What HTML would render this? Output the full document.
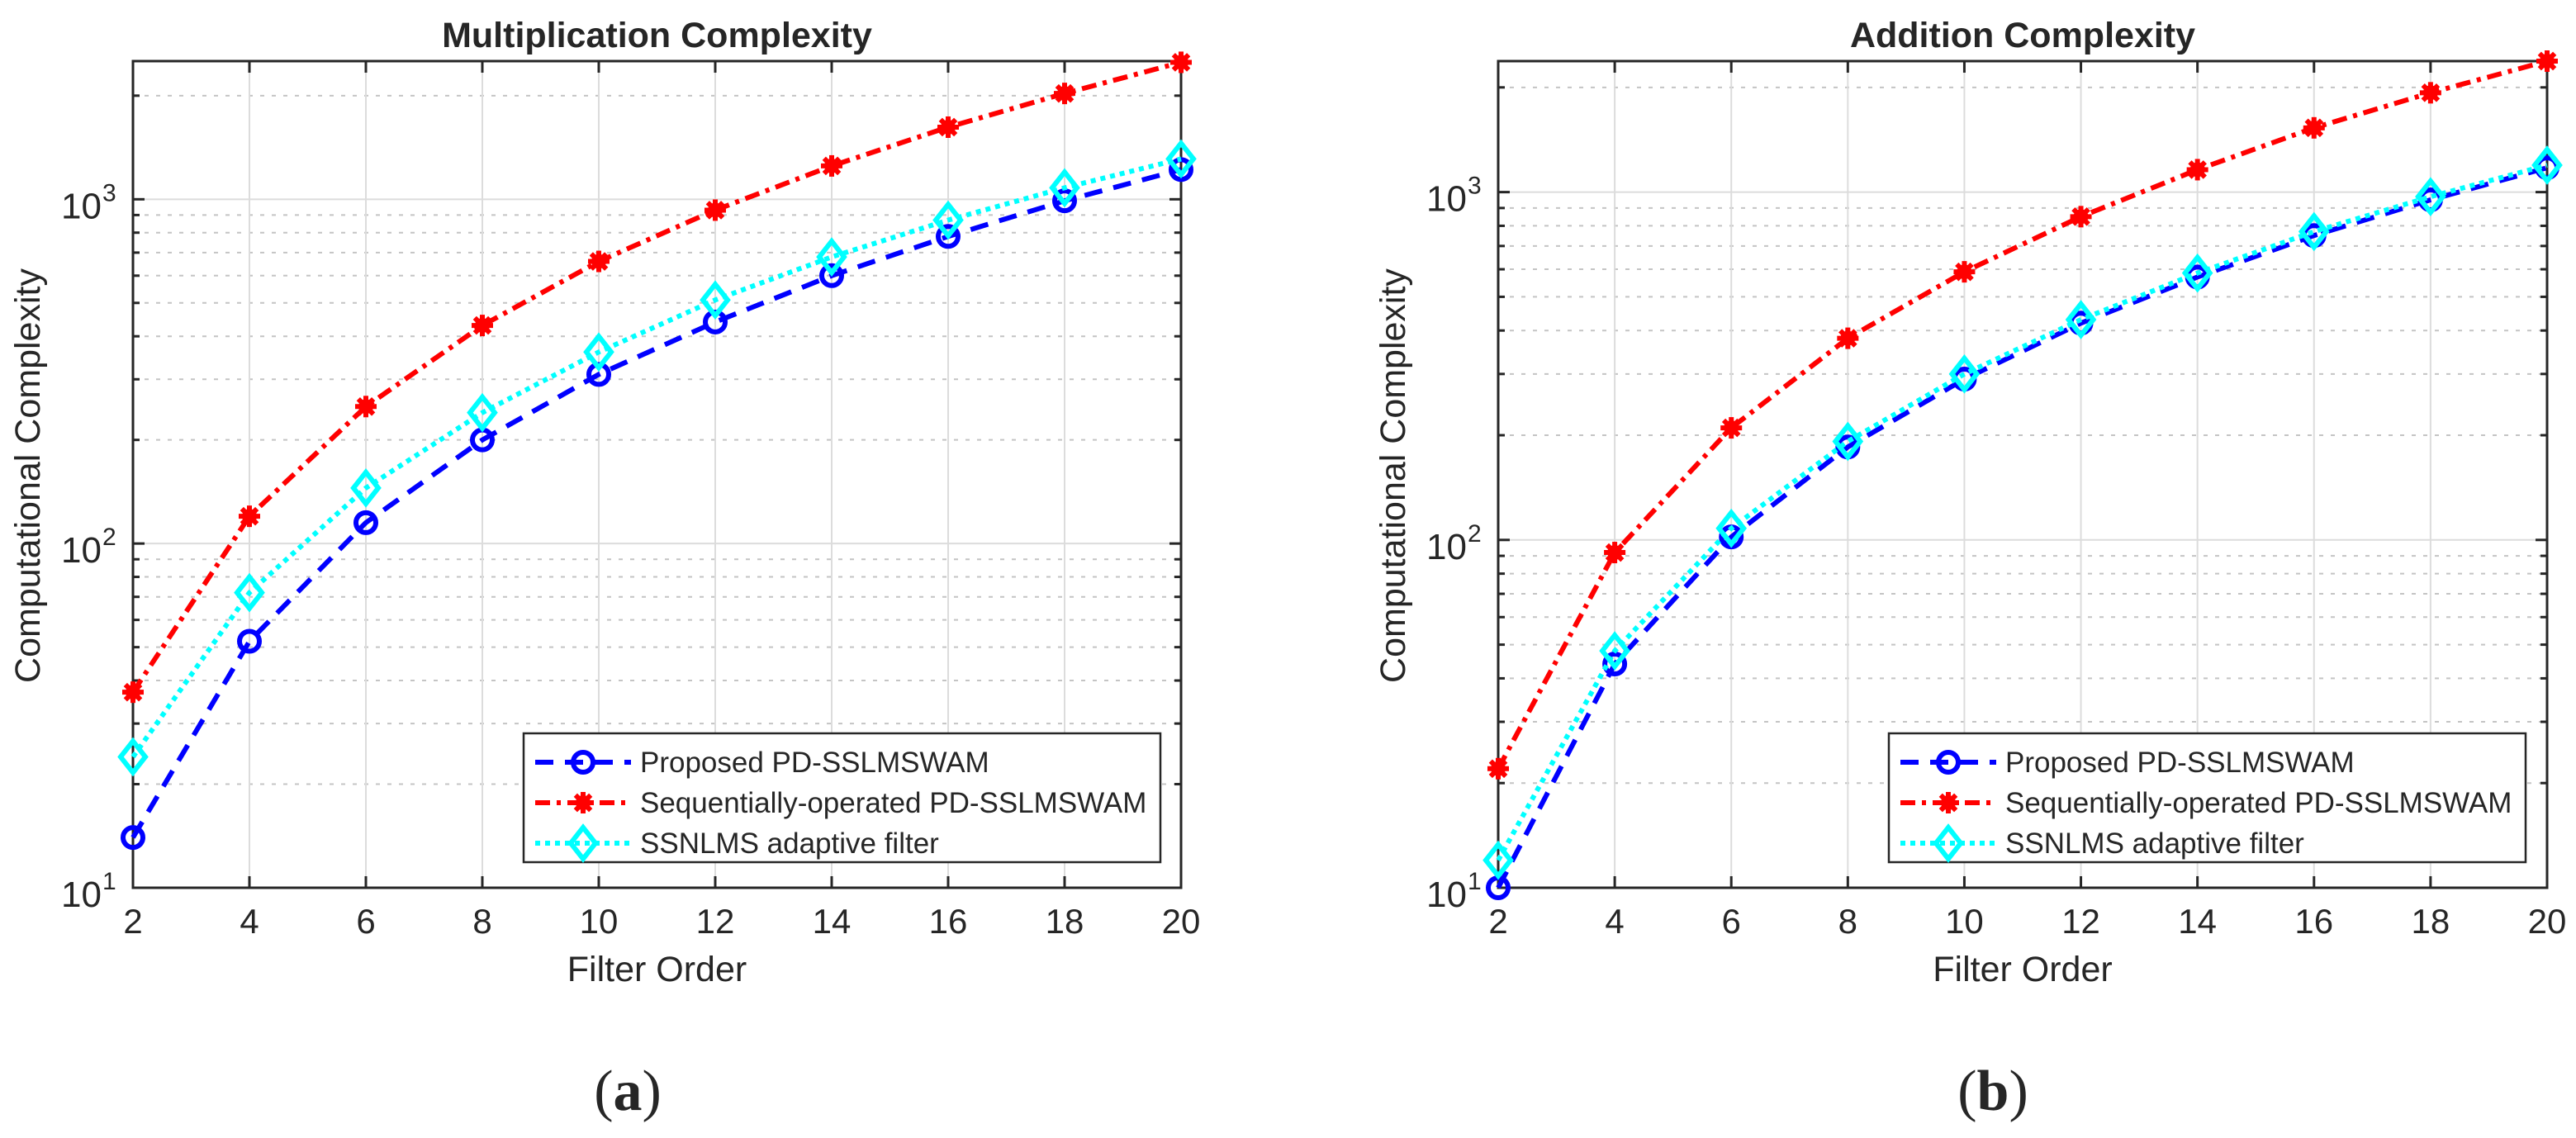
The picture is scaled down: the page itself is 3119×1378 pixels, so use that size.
<!DOCTYPE html>
<html><head><meta charset="utf-8">
<style>
html,body{margin:0;padding:0;background:#fff;}
svg{display:block;}
text{font-family:"Liberation Sans",Arial,sans-serif;fill:#262626;}
</style></head>
<body>
<svg id="fig" width="3119" height="1378" viewBox="0 0 3119 1378" xmlns="http://www.w3.org/2000/svg"></svg>
<script>
const xCats = [2,4,6,8,10,12,14,16,18,20];
const xTickLabels = ["2","4","6","8","10","12","14","16","18","20"];
const multProposed = [14,52,115,200,310,440,600,780,990,1220];
const multSequential = [37,120,250,430,660,930,1250,1620,2030,2500];
const multSSNLMS = [24,72,145,240,360,510,680,870,1080,1310];
const addProposed = [10,44,102,185,290,420,570,750,950,1175];
const addSequential = [22,92,210,380,590,850,1160,1530,1930,2380];
const addSSNLMS = [12,48,108,192,300,430,585,770,970,1195];
const yDecades = [1,2,3];
const legendLabels = ["Proposed PD-SSLMSWAM","Sequentially-operated PD-SSLMSWAM","SSNLMS adaptive filter"];

const NS="http://www.w3.org/2000/svg";
const svg=document.getElementById('fig');
function el(tag,attrs,parent){const e=document.createElementNS(NS,tag);for(const k in attrs)e.setAttribute(k,attrs[k]);(parent||svg).appendChild(e);return e;}

function drawPanel(cfg){
  const g=el('g',{});
  
  
  const L=cfg.left,R=cfg.right,T=74,B=1075;
  const xMin=2,xMax=20,yMin=10,yMax=cfg.ymax;
  const sx=v=>L+(v-xMin)/(xMax-xMin)*(R-L);
  const sy=v=>B-(Math.log10(v)-Math.log10(yMin))/(Math.log10(yMax)-Math.log10(yMin))*(B-T);
  for(let d=1;d<=3;d++){for(let m=2;m<=9;m++){const v=m*Math.pow(10,d);if(v>yMax)continue;const y=sy(v);
    const gl=el('line',{x1:L,x2:R,y1:y,y2:y,stroke:'#c4c4c4','stroke-width':2,'stroke-dasharray':'5 9'},g);
    
    
    el('line',{x1:L,x2:L+8,y1:y,y2:y,stroke:'#262626','stroke-width':3},g);
    el('line',{x1:R,x2:R-8,y1:y,y2:y,stroke:'#262626','stroke-width':3},g);
  }}
  yDecades.forEach(d=>{const y=sy(Math.pow(10,d));
    const gl=el('line',{x1:L,x2:R,y1:y,y2:y,stroke:'#dcdcdc','stroke-width':2},g);
    
    
    el('line',{x1:L,x2:L+14,y1:y,y2:y,stroke:'#262626','stroke-width':3},g);
    el('line',{x1:R,x2:R-14,y1:y,y2:y,stroke:'#262626','stroke-width':3},g);
    const t=el('text',{x:L-38,y:y+23,'font-size':44,'text-anchor':'end'},g);t.textContent='10';
    
    
    const s=el('text',{x:L-37,y:y+2,'font-size':30},g);s.textContent=String(d);
  });
  xCats.forEach((c,i)=>{const x=sx(c);
    el('line',{x1:x,x2:x,y1:T,y2:B,stroke:'#dcdcdc','stroke-width':2},g);
    el('line',{x1:x,x2:x,y1:B,y2:B-14,stroke:'#262626','stroke-width':3},g);
    el('line',{x1:x,x2:x,y1:T,y2:T+14,stroke:'#262626','stroke-width':3},g);
    const t=el('text',{x:x,y:1130,'font-size':42,'text-anchor':'middle'},g);t.textContent=xTickLabels[i];
    
    
  });
  const box=el('rect',{x:L,y:T,width:R-L,height:B-T,fill:'none',stroke:'#262626','stroke-width':3},g);
  
  

  const series=[
    {vals:cfg.prop,color:'#0000ff',dash:'22 14',marker:'circle',name:'series-proposed'},
    {vals:cfg.seq,color:'#ff0000',dash:'18 8 5 8',marker:'star',name:'series-sequential'},
    {vals:cfg.ss,color:'#00ffff',dash:'6 6',marker:'diamond',name:'series-ssnlms'}
  ];
  function marker(type,x,y,color,parent){
    if(type==='circle') return el('circle',{cx:x,cy:y,r:12,fill:'none',stroke:color,'stroke-width':6},parent);
    if(type==='diamond') return el('polygon',{points:`${x},${y-19} ${x+15},${y} ${x},${y+19} ${x-15},${y}`,fill:'none',stroke:color,'stroke-width':6},parent);
    const gg=el('g',{},parent);
    el('circle',{cx:x,cy:y,r:9,fill:color},gg);
    for(let a=0;a<4;a++){const an=a*Math.PI/4;el('line',{x1:x-13*Math.cos(an),y1:y-13*Math.sin(an),x2:x+13*Math.cos(an),y2:y+13*Math.sin(an),stroke:color,'stroke-width':6},gg);}
    return gg;
  }
  series.forEach(s=>{
    const sg=el('g',{},g);
    
    
    const pts=s.vals.map((v,i)=>sx(xCats[i])+','+sy(v)).join(' ');
    el('polyline',{points:pts,fill:'none',stroke:s.color,'stroke-width':6,'stroke-dasharray':s.dash},sg);
    s.vals.forEach((v,i)=>{const m=marker(s.marker,sx(xCats[i]),sy(v),s.color,sg);
      
      
    });
  });
  const lg=el('g',{},g);
  
  
  const lx=L+473;
  el('rect',{x:lx,y:888,width:771,height:156,fill:'#fff',stroke:'#262626','stroke-width':2.5},lg);
  series.forEach((s,i)=>{const y=923+i*49;
    const eg=el('g',{},lg);
    
    
    el('line',{x1:lx+14,x2:lx+130,y1:y,y2:y,stroke:s.color,'stroke-width':6,'stroke-dasharray':s.dash},eg);
    marker(s.marker,lx+72,y,s.color,eg);
    const t=el('text',{x:lx+141,y:y+12,'font-size':35,fill:'#000'},eg);t.textContent=legendLabels[i];
  });
  const title=el('text',{x:(L+R)/2,y:57,'font-size':43,'font-weight':'bold','text-anchor':'middle',fill:'#000'},g);
  title.textContent=cfg.title;
  
  
  const xl=el('text',{x:(L+R)/2,y:1188,'font-size':43,'text-anchor':'middle'},g);
  xl.textContent='Filter Order';
  
  
  const yx=L-113;
  const yl=el('text',{x:yx,y:576,'font-size':43,'text-anchor':'middle',transform:`rotate(-90 ${yx} 576)`},g);
  yl.textContent='Computational Complexity';
  
  
  const cap=el('text',{x:cfg.capX,y:1344,'font-size':70,'text-anchor':'middle',style:'font-family:"Liberation Serif",serif',fill:'#000'},g);
  cap.innerHTML='(<tspan font-weight="bold">'+cfg.cap+'</tspan>)';
  
  
}
drawPanel({name:'multiplication-chart',left:161,right:1430,ymax:2520,prop:multProposed,seq:multSequential,ss:multSSNLMS,title:'Multiplication Complexity',capX:760,cap:'a'});
drawPanel({name:'addition-chart',left:1814,right:3084,ymax:2380,prop:addProposed,seq:addSequential,ss:addSSNLMS,title:'Addition Complexity',capX:2413,cap:'b'});
</script>
</body></html>
